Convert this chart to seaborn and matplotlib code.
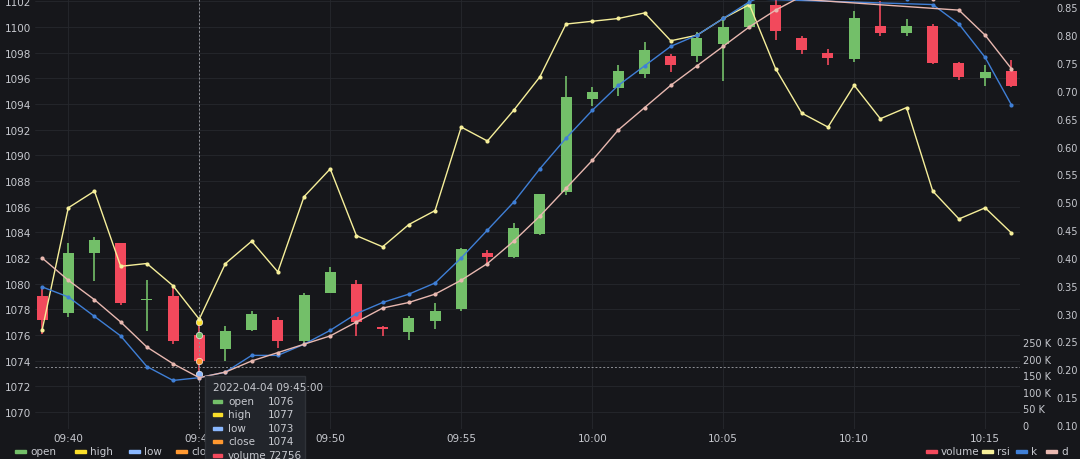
import matplotlib
matplotlib.use("Agg")
import matplotlib.pyplot as plt
import seaborn as sns
import numpy as np
import pandas as pd

times = ["09:39","09:40","09:41","09:42","09:43","09:44","09:45","09:46","09:47","09:48",
         "09:49","09:50","09:51","09:52","09:53","09:54","09:55","09:56","09:57","09:58",
         "09:59","10:00","10:01","10:02","10:03","10:04","10:05","10:06","10:07","10:08",
         "10:09","10:10","10:11","10:12","10:13","10:14","10:15","10:16"]
open_ = [1079.0,1077.7,1082.4,1083.2,1078.7,1079.0,1076,1074.9,1076.4,1077.2,
         1075.5,1079.3,1080.0,1076.6,1076.2,1077.1,1078.0,1082.4,1082.1,1083.9,
         1087.1,1094.4,1095.2,1096.3,1097.7,1097.7,1098.7,1100.0,1101.7,1099.1,
         1098.0,1097.5,1100.1,1099.5,1100.1,1097.2,1096.0,1096.6]
high = [1079.6,1083.2,1083.6,1083.2,1080.3,1079.7,1077,1076.7,1077.9,1077.4,
        1079.3,1081.3,1080.3,1076.7,1077.5,1078.5,1082.8,1082.6,1084.7,1087.0,
        1096.2,1095.3,1097.0,1098.8,1097.9,1099.6,1100.8,1102.3,1102.5,1099.3,
        1098.3,1101.2,1102.0,1100.6,1100.2,1097.3,1097.0,1097.4]
low = [1076.1,1077.4,1080.2,1078.3,1076.3,1075.3,1073,1074.0,1076.3,1075.0,
       1075.3,1079.3,1075.9,1075.9,1075.6,1076.5,1077.9,1081.4,1082.0,1083.8,
       1086.9,1093.8,1094.6,1096.0,1096.5,1097.3,1095.8,1099.8,1099.0,1097.9,
       1097.0,1097.3,1099.3,1099.3,1097.1,1095.9,1095.4,1095.3]
close = [1077.2,1082.4,1083.4,1078.5,1078.8,1075.5,1074,1076.3,1077.6,1075.5,
         1079.1,1080.9,1077.0,1076.5,1077.3,1077.9,1082.7,1082.1,1084.3,1087.0,
         1094.5,1094.9,1096.6,1098.2,1097.0,1099.1,1100.0,1101.8,1099.7,1098.2,
         1097.6,1100.7,1099.5,1100.1,1097.2,1096.1,1096.5,1095.4]
volume = [78000,78000,36000,42000,36000,63000,72756,40000,32000,50000,
          42000,78000,54000,39000,45000,27000,72000,60000,111000,90000,
          214000,45000,78000,78000,48000,90000,39000,108000,63000,60000,
          60000,39000,99000,39000,57000,57000,39000,36000]
rsi = [0.27,0.49,0.52,0.385,0.39,0.35,0.29,0.39,0.43,0.375,
       0.51,0.56,0.44,0.42,0.46,0.485,0.635,0.61,0.665,0.725,
       0.82,0.825,0.83,0.84,0.79,0.80,0.83,0.855,0.74,0.66,
       0.635,0.71,0.65,0.67,0.52,0.47,0.49,0.445]
k = [0.348,0.33,0.295,0.26,0.205,0.18,0.185,0.195,0.225,0.225,
     0.245,0.27,0.30,0.32,0.335,0.355,0.40,0.45,0.50,0.56,
     0.615,0.665,0.71,0.745,0.78,0.80,0.83,0.86,0.88,0.90,
     0.90,0.89,0.88,0.865,0.855,0.82,0.76,0.675]
d = [0.40,0.36,0.325,0.285,0.24,0.21,0.185,0.195,0.215,0.23,
     0.245,0.26,0.285,0.31,0.32,0.335,0.36,0.39,0.43,0.475,
     0.525,0.575,0.63,0.67,0.71,0.745,0.78,0.815,0.845,0.87,
     0.88,0.885,0.885,0.87,0.865,0.845,0.80,0.74]
price_ticks = list(range(1070, 1103, 2))
rsi_ticks = [0.10,0.15,0.20,0.25,0.30,0.35,0.40,0.45,0.50,0.55,0.60,0.65,0.70,0.75,0.80,0.85]
vol_ticks = [0,50000,100000,150000,200000,250000]
vol_labels = ["0","50 K","100 K","150 K","200 K","250 K"]
xtick_labels = ["09:40","09:45","09:50","09:55","10:00","10:05","10:10","10:15"]
hover_idx = 6

BG = "#16171b"; TXT = "#c7c9cf"; GRID = "#26282d"
GREEN = "#73bf69"; RED = "#f2495c"
sns.set_theme(style="dark")
plt.rcParams['font.family'] = ['DejaVu Sans']

df = pd.DataFrame({"t": times, "x": np.arange(len(times)), "open": open_, "high": high,
                   "low": low, "close": close, "volume": volume, "rsi": rsi, "k": k, "d": d})
df["up"] = df["close"] >= df["open"]
df["col"] = np.where(df["up"], GREEN, RED)

fig = plt.figure(figsize=(10.8, 4.6), dpi=100, facecolor=BG)
ax = fig.add_axes([35/1080, 30/460, 985/1080, 430/460])
ax3 = ax.twinx(); ax2 = ax.twinx()
for a in (ax, ax2, ax3):
    a.set_facecolor("none")
    for s in a.spines.values(): s.set_visible(False)
ax.set_facecolor(BG)
ax3.set_zorder(0); ax.set_zorder(1); ax2.set_zorder(2)

xl = (-0.27, 37.33)
# volume
ax3.bar(df["x"], df["volume"], width=0.42, color=df["col"], alpha=0.5, linewidth=0)
ax3.set_ylim(-12000, 1283000)
ax3.set_yticks(vol_ticks); ax3.set_yticklabels(vol_labels)
ax3.tick_params(axis="y", colors=TXT, labelsize=7, length=0, pad=2)
ax3.grid(False)

# candles
ax.vlines(df["x"], df["low"], df["high"], colors=df["col"], linewidth=1.2, zorder=2)
body_lo = df[["open","close"]].min(axis=1)
body_h = np.maximum((df["close"]-df["open"]).abs(), 0.12)
ax.bar(df["x"], body_h, bottom=body_lo, width=0.42, color=df["col"], linewidth=0, zorder=3)
ax.set_ylim(1068.68, 1102.17)
ax.set_yticks(price_ticks)
ax.tick_params(axis="y", colors=TXT, labelsize=7.5, length=0, pad=3)
ax.set_xticks(np.arange(1, 38, 5)); ax.set_xticklabels(xtick_labels)
ax.tick_params(axis="x", colors=TXT, labelsize=7.5, length=0, pad=3)
ax.grid(True, color=GRID, linewidth=0.6)
ax.set_xlim(*xl)

# indicators
sns.lineplot(data=df, x="x", y="rsi", ax=ax2, color="#f6ef9a", linewidth=1.0, marker="o", markersize=3, markeredgewidth=0)
sns.lineplot(data=df, x="x", y="k", ax=ax2, color="#3f7fd6", linewidth=1.0, marker="o", markersize=3, markeredgewidth=0)
sns.lineplot(data=df, x="x", y="d", ax=ax2, color="#e8b8b0", linewidth=1.0, marker="o", markersize=3, markeredgewidth=0)
ax2.set_ylim(0.0928, 0.865)
ax2.set_yticks(rsi_ticks); ax2.set_yticklabels([f"{v:.2f}" for v in rsi_ticks])
ax2.tick_params(axis="y", colors=TXT, labelsize=7, length=0, pad=26)
ax2.set_ylabel(""); ax2.set_xlabel(""); ax.set_xlabel(""); ax3.set_ylabel("")
ax2.grid(False)
ax2.set_xlim(*xl); ax3.set_xlim(*xl)

# crosshair and hover points
ax.axvline(hover_idx, color="#8e9096", linestyle=(0, (2, 2)), linewidth=0.7, zorder=5)
ax.axhline(1073.5, color="#8e9096", linestyle=(0, (2, 2)), linewidth=0.7, zorder=5)
h = df.iloc[hover_idx]
for key, c in [("open", GREEN), ("high", "#fade2a"), ("low", "#8ab8ff"), ("close", "#ff9830")]:
    ax.scatter([h["x"]], [h[key]], s=22, color=c, edgecolor="white", linewidth=0.4, zorder=6)

# tooltip
fig.patches.append(plt.Rectangle((205/1080, 0), 100/1080, 83/460, transform=fig.transFigure,
                                 facecolor="#22252b", edgecolor="#2f3238", zorder=10))
fig.text(213/1080, 1-388/460, "2022-04-04 " + h["t"] + ":00", color=TXT, fontsize=7.5, va="center", zorder=11)
rows = [("open", GREEN, "1076"), ("high", "#fade2a", "1077"), ("low", "#8ab8ff", "1073"),
        ("close", "#ff9830", "1074"), ("volume", RED, f"{volume[hover_idx]}")]
for i, (n, c, v) in enumerate(rows):
    yy = 1 - (402 + i*13.5)/460
    fig.patches.append(plt.Rectangle((213/1080, yy-1.5/460), 9/1080, 3/460, transform=fig.transFigure, color=c, zorder=11))
    fig.text(228/1080, yy, n, color=TXT, fontsize=7.5, va="center", zorder=11)
    fig.text(268/1080, yy, v, color=TXT, fontsize=7.5, va="center", zorder=11)

# legends
def legend_item(x, label, c):
    fig.patches.append(plt.Rectangle((x/1080, 1-453.5/460), 11/1080, 3/460, transform=fig.transFigure, color=c))
    fig.text((x+15)/1080, 1-452/460, label, color=TXT, fontsize=7.5, va="center")
for x, lab, c in [(15, "open", GREEN), (75, "high", "#fade2a"), (129, "low", "#8ab8ff"), (176, "close", "#ff9830")]:
    legend_item(x, lab, c)
for x, lab, c in [(926, "volume", RED), (982, "rsi", "#f6ef9a"), (1016, "k", "#3f7fd6"), (1046, "d", "#e8b8b0")]:
    legend_item(x, lab, c)

fig.savefig("out.png", dpi=100, facecolor=BG)
